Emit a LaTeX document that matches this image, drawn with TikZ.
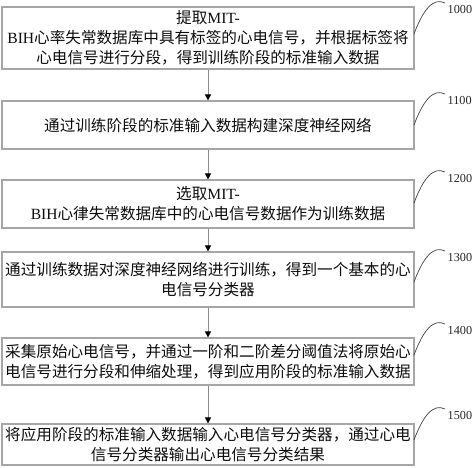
\documentclass[tikz,border=0pt]{standalone}
\usepackage{fontspec}
\setmainfont{Noto Sans CJK SC}
\newfontfamily\lat{Liberation Serif}
\usetikzlibrary{arrows.meta}
\tikzset{
  stepbox/.style={draw=black!35, line width=1.2pt, minimum width=412pt, inner sep=0pt,
    align=center, text=black!95, font=\fontsize{15.6}{20}\selectfont},
  flow/.style={draw=black!45, line width=0.8pt, -{Triangle[length=6pt,width=6pt,black]}},
  tagline/.style={draw=black!75, line width=0.7pt},
  tagtext/.style={anchor=west, inner sep=0pt, text=black!85, font=\lat\fontsize{12.2}{14}\selectfont}
}
\begin{document}
\begin{tikzpicture}[x=1pt,y=-1pt]
\useasboundingbox (0,0) rectangle (474,467);
\node[stepbox, minimum height=62pt] (b1) at (208,38) {提取{\lat MIT-}\\{\lat BIH}心率失常数据库中具有标签的心电信号，并根据标签将\\心电信号进行分段，得到训练阶段的标准输入数据};
\node[stepbox, minimum height=48pt] (b2) at (208,125) {通过训练阶段的标准输入数据构建深度神经网络};
\node[stepbox, minimum height=48pt] (b3) at (208,204) {选取{\lat MIT-}\\{\lat BIH}心律失常数据库中的心电信号数据作为训练数据};
\node[stepbox, minimum height=55pt] (b4) at (208,279.5) {通过训练数据对深度神经网络进行训练，得到一个基本的心\\电信号分类器};
\node[stepbox, minimum height=47pt] (b5) at (208,361.5) {采集原始心电信号，并通过一阶和二阶差分阈值法将原始心\\电信号进行分段和伸缩处理，得到应用阶段的标准输入数据};
\node[stepbox, minimum height=41pt] (b6) at (208,444.5) {将应用阶段的标准输入数据输入心电信号分类器，通过心电\\信号分类器输出心电信号分类结果};
\foreach \a/\b in {b1/b2,b2/b3,b3/b4,b4/b5,b5/b6}{
  \draw[flow] (\a.south) -- (\b.north);
}
\foreach \n/\y/\t in {b1/34/1000,b2/125/1100,b3/203/1200,b4/282/1300,b5/355/1400,b6/440/1500}{
  \coordinate (s\n) at (414,\y);
  \coordinate (e\n) at (445,\y-31);
  \draw[tagline] (s\n) .. controls (423,\y-24) and (433,\y-37) .. (e\n);
  \node[tagtext] (t\n) at (447.5,\y-25) {\t};
}
\end{tikzpicture}
\end{document}
